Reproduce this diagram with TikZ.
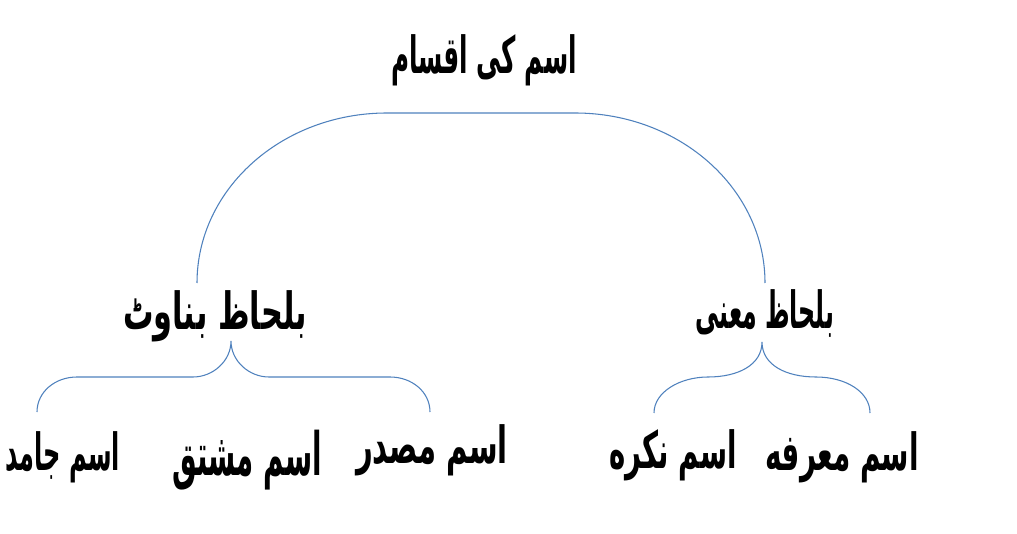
\documentclass[tikz,border=0pt]{standalone}
\usepackage{fontspec}
\newfontfamily\arabicfont[Script=Arabic]{DejaVu Sans}
\TeXXeTstate=1
\definecolor{linkblue}{HTML}{4F81BD}
\newcommand{\urtext}[2]{\scalebox{#1}[1.6]{\arabicfont\bfseries #2}}
\tikzset{
  lbl/.style={inner sep=0pt, font=\fontsize{24}{28}\selectfont},
  biglbl/.style={inner sep=0pt, font=\fontsize{28}{32}\selectfont},
  link/.style={draw=linkblue, line width=0.8pt}
}
\begin{document}
\begin{tikzpicture}[x=0.75pt,y=-0.75pt]
\useasboundingbox (0,0) rectangle (1017,534);
% nodes
\node[lbl] (title) at (484,60) {\urtext{0.77}{\beginR اسم کی اقسام\endR}};
\node[lbl] (banawat) at (215,316) {\urtext{0.95}{\beginR بلحاظ بناوٹ\endR}};
\node[lbl] (mani) at (765,313) {\urtext{0.74}{\beginR بلحاظ معنی\endR}};
\node[lbl] (jamid) at (63,457) {\urtext{0.75}{\beginR اسم جامد\endR}};
\node[biglbl] (mushtaq) at (247,460) {\urtext{0.74}{\beginR اسم مشتق\endR}};
\node[lbl] (masdar) at (432,450) {\urtext{0.91}{\beginR اسم مصدر\endR}};
\node[lbl] (nakira) at (673,455) {\urtext{0.86}{\beginR اسم نکره\endR}};
\node[lbl] (marifa) at (842,457) {\urtext{0.87}{\beginR اسم معرفه\endR}};
% connector end points
\coordinate (aL) at (197,283);
\coordinate (aR) at (765,283);
\coordinate (bC) at (231,341);
\coordinate (bL) at (37,412);
\coordinate (bR) at (430,412);
\coordinate (mC) at (762,342);
\coordinate (mL) at (654,413);
\coordinate (mR) at (870,413);
% arch
\draw[link] (aL) .. controls (197,189) and (282,113) .. (387,113) -- (575,113)
  .. controls (680,113) and (765,189) .. (aR);
% left brace
\draw[link] (bL) .. controls (37,392) and (55,377) .. (77,377) -- (193,377)
  .. controls (213,377) and (231,361) .. (bC)
  .. controls (231,361) and (249,377) .. (269,377) -- (390,377)
  .. controls (412,377) and (430,392) .. (bR);
% right brace
\draw[link] (mL) .. controls (654,392) and (680,377) .. (708,377)
  .. controls (738,377) and (762,365) .. (mC)
  .. controls (762,365) and (786,377) .. (816,377)
  .. controls (846,377) and (870,392) .. (mR);
\end{tikzpicture}
\end{document}
